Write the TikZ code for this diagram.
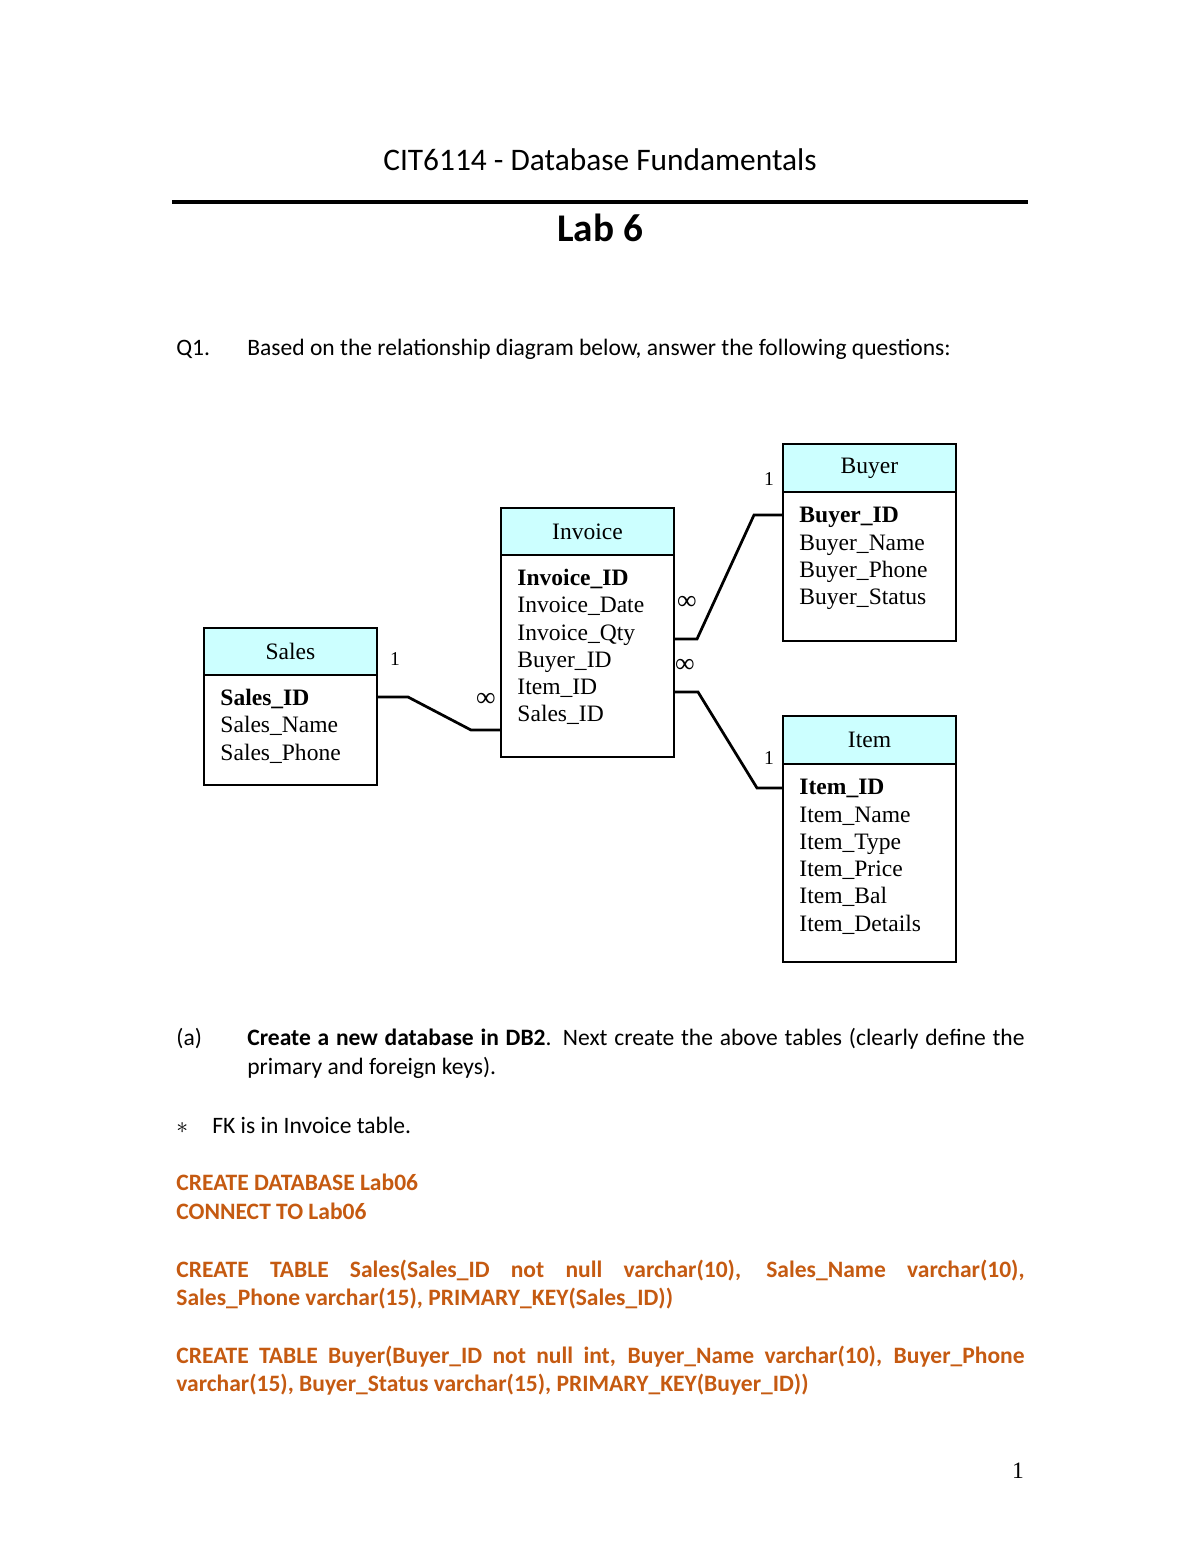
\documentclass[tikz,border=0pt]{standalone}
\usepackage{fontspec}
\setmainfont{Carlito}
\newfontfamily\erfont{Liberation Serif}
\usetikzlibrary{positioning}
\definecolor{hdr}{RGB}{204,255,255}
\definecolor{sql}{RGB}{197,90,17}

\begin{document}
\begin{tikzpicture}[x=0.51pt,y=-0.51pt,
tabhead/.style={draw,line width=1.4pt,fill=hdr,minimum width=88.2pt,
minimum height=24pt,outer sep=0pt,inner sep=0pt,font=\erfont\fontsize{12}{14}\selectfont},
tabbody/.style={draw,line width=1.4pt,minimum width=88.2pt,outer sep=0pt,inner sep=0pt},
fields/.style={anchor=north west,align=left,inner sep=0pt,font=\erfont\fontsize{12}{13.9}\selectfont},
card/.style={inner sep=0pt,font=\erfont\fontsize{10}{12}\selectfont},
many/.style={card,font=\erfont\fontsize{14}{14}\selectfont},
rel/.style={line width=1.4pt},
txt/.style={anchor=base west,inner sep=0pt,font=\fontsize{12}{14.6}\selectfont},
code/.style={txt,text=sql,font=\fontsize{12}{14.6}\selectfont\bfseries}]
\useasboundingbox (0,0) rectangle (1200,1553);

% heading
\node[anchor=base,inner sep=0pt,font=\fontsize{16}{19}\selectfont] (title) at (600,171) {CIT6114 - Database Fundamentals};
\draw[line width=2pt] (172,202) -- (1028,202);
\node[anchor=base,inner sep=0pt,font=\fontsize{20}{24}\selectfont\bfseries] (lab) at (600,242) {Lab 6};
\node[txt] (qno) at (176,355) {Q1.};
\node[txt] (qtext) at (247,355) {Based on the relationship diagram below, answer the following questions:};

% tables
\node[tabhead,anchor=north west] (sales) at (204,628) {Sales};
\node[tabbody,minimum height=56.1pt,below=0pt of sales] (salesb) {};
\node[fields] (salesf) at ([xshift=8.2pt,yshift=-7pt]salesb.north west) {\textbf{Sales\_ID}\\Sales\_Name\\Sales\_Phone};
\node[tabhead,anchor=north west] (inv) at (501,508) {Invoice};
\node[tabbody,minimum height=103pt,below=0pt of inv] (invb) {};
\node[fields] (invf) at ([xshift=8.2pt,yshift=-7pt]invb.north west) {\textbf{Invoice\_ID}\\Invoice\_Date\\Invoice\_Qty\\Buyer\_ID\\Item\_ID\\Sales\_ID};
\node[tabhead,minimum height=24.5pt,anchor=north west] (buy) at (783,444) {Buyer};
\node[tabbody,minimum height=76pt,below=0pt of buy] (buyb) {};
\node[fields] (buyf) at ([xshift=8.2pt,yshift=-7.6pt]buyb.north west) {\textbf{Buyer\_ID}\\Buyer\_Name\\Buyer\_Phone\\Buyer\_Status};
\node[tabhead,minimum height=24.5pt,anchor=north west] (item) at (783,716) {Item};
\node[tabbody,minimum height=101pt,below=0pt of item] (itemb) {};
\node[fields] (itemf) at ([xshift=8.2pt,yshift=-7.6pt]itemb.north west) {\textbf{Item\_ID}\\Item\_Name\\Item\_Type\\Item\_Price\\Item\_Bal\\Item\_Details};

% relationships
\coordinate (s1) at (408,697); \coordinate (s2) at (471,730);
\draw[rel] (salesb.east |- s1) -- (s1) -- (s2) -- (invb.west |- s2);
\coordinate (b1) at (697,639); \coordinate (b2) at (754,515);
\draw[rel] (invb.east |- b1) -- (b1) -- (b2) -- (buyb.west |- b2);
\coordinate (i1) at (698,692); \coordinate (i2) at (757,788);
\draw[rel] (invb.east |- i1) -- (i1) -- (i2) -- (itemb.west |- i2);
\node[card] (c1) at (395,659) {1};
\node[many] (c2) at (486,700) {∞};
\node[many] (c3) at (687,603) {∞};
\node[card] (c4) at (769,479) {1};
\node[many] (c5) at (685,666) {∞};
\node[card] (c6) at (769,758) {1};

% question text
\node[txt] (pa) at (176,1045) {(a)};
\node[txt] (pa1) at (247,1045) {\makebox[396.3pt][s]{\textbf{Create a new database in DB2}. Next create the above tables (clearly define the}};
\node[txt] (pa2) at (247,1074) {primary and foreign keys).};
\node[txt] (star) at (176,1133) {$\ast$};
\node[txt] (fk) at (212,1133) {FK is in Invoice table.};
\node[code] (db1) at (176,1190) {CREATE DATABASE Lab06};
\node[code] (db2) at (176,1219) {CONNECT TO Lab06};
\node[code] (ts1) at (176,1277) {\makebox[432.5pt][s]{CREATE TABLE Sales(Sales\_ID not null varchar(10), Sales\_Name varchar(10),}};
\node[code] (ts2) at (176,1305) {Sales\_Phone varchar(15), PRIMARY\_KEY(Sales\_ID))};
\node[code] (tb1) at (176,1363) {\makebox[432.5pt][s]{CREATE TABLE Buyer(Buyer\_ID not null int, Buyer\_Name varchar(10), Buyer\_Phone}};
\node[code] (tb2) at (176,1391) {varchar(15), Buyer\_Status varchar(15), PRIMARY\_KEY(Buyer\_ID))};
\node[anchor=base,inner sep=0pt,font=\erfont\fontsize{12}{14}\selectfont] (pg) at (1018,1478) {1};
\end{tikzpicture}
\end{document}
